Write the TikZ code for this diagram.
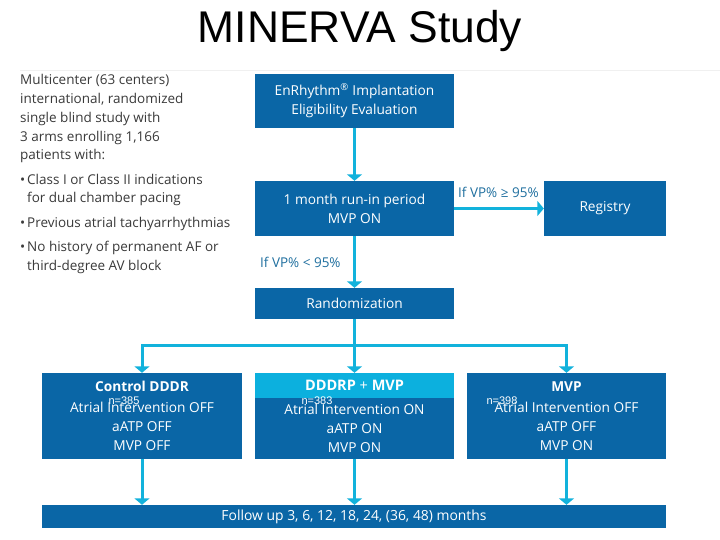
\documentclass[tikz,border=0pt]{standalone}
\usepackage{fontspec}
\setmainfont{Open Sans}
\newfontfamily\titlefont{Liberation Sans}
\usetikzlibrary{arrows.meta}
\definecolor{boxblue}{HTML}{0A66A6}
\definecolor{lineblue}{HTML}{12B2DC}
\definecolor{headblue}{HTML}{0CB0DE}
\definecolor{labelblue}{HTML}{1F6F9F}
\definecolor{bodygrey}{HTML}{3A3A3A}
\tikzset{
  flowbox/.style={fill=boxblue,text=white,inner sep=0pt,align=center,font=\fontsize{13.7}{19}\selectfont},
  flowline/.style={draw=lineblue,line width=3pt,line join=miter},
  flowarrow/.style={flowline,-{Triangle[width=15pt,length=6.5pt]}},
  cond/.style={text=labelblue,inner sep=0pt,anchor=base west,font=\fontsize{13.5}{16}\selectfont},
  bodytext/.style={text=bodygrey,inner sep=0pt,align=left,anchor=base west,font=\fontsize{13.5}{18.8}\selectfont},
  countlabel/.style={text=white,inner sep=0pt,font=\titlefont\fontsize{11}{12}\selectfont}
}
\newcommand{\bul}{\makebox[7pt][l]{\textbullet}}
\begin{document}
\begin{tikzpicture}[x=1pt,y=-1pt]
\useasboundingbox (0,0) rectangle (720,540);
\fill[white] (0,0) rectangle (720,540);
\draw[draw=black!6,line width=0.8pt] (20,70.5) -- (720,70.5);
\node[inner sep=0pt,font=\titlefont\fontsize{44.4}{50}\selectfont] (title) at (360,31) {MINERVA Study};

% left text (a multi-line node's base is its last line)
\node[bodytext] (intro) at (20,160) {Multicenter (63 centers)\\international, randomized\\single blind study with\\3 arms enrolling 1,166\\patients with:};
\node[bodytext] (bone) at (20,203) {\bul Class I or Class II indications\\\hspace*{7pt}for dual chamber pacing};
\node[bodytext] (btwo) at (20,227) {\bul Previous atrial tachyarrhythmias};
\node[bodytext] (bthree) at (20,270) {\bul No history of permanent AF or\\\hspace*{7pt}third-degree AV block};

% flow boxes
\node[flowbox,minimum width=199pt,minimum height=54pt] (elig) at (354.5,101) {EnRhythm\textsuperscript{\textregistered} Implantation\\Eligibility Evaluation};
\node[flowbox,minimum width=199pt,minimum height=55pt] (runin) at (354.5,208.5) {1 month run-in period\\MVP ON};
\node[flowbox,minimum width=122pt,minimum height=55pt] (registry) at (605,208.5) {Registry};
\node[flowbox,minimum width=199pt,minimum height=31pt] (rand) at (354.5,303.5) {Randomization};

\node[flowbox,minimum width=200pt,minimum height=86pt] (ctrl) at (142,416) {\textbf{Control DDDR}\\[1.5pt]Atrial Intervention OFF\\aATP OFF\\MVP OFF};
\node[flowbox,minimum width=199pt,minimum height=61pt] (dddrp) at (354.5,428.5) {Atrial Intervention ON\\aATP ON\\MVP ON};
\node[flowbox,fill=headblue,minimum width=199pt,minimum height=25pt,font=\fontsize{14.5}{19}\selectfont] (dddrphead) at (354.5,385.5) {\textbf{DDDRP} + \textbf{MVP}};
\node[flowbox,minimum width=199pt,minimum height=86pt] (mvp) at (566.5,416) {\textbf{MVP}\\[1.5pt]Atrial Intervention OFF\\aATP OFF\\MVP ON};
\node[flowbox,minimum width=624pt,minimum height=23pt,font=\fontsize{13.9}{19}\selectfont] (follow) at (354,516.5) {Follow up 3, 6, 12, 18, 24, (36, 48) months};

% counts
\node[countlabel] (nctrl) at (124,401) {n=385};
\node[countlabel] (ndddrp) at (317,401) {n=383};
\node[countlabel] (nmvp) at (502,401) {n=398};

% condition labels
\node[cond] (condhigh) at (458,197) {If VP\% ≥ 95\%};
\node[cond] (condlow) at (260,267) {If VP\% < 95\%};

% connectors
\coordinate (branch) at (354.5,345);
\draw[flowarrow] (elig) -- (runin);
\draw[flowarrow] (runin) -- (registry);
\draw[flowarrow] (runin) -- (rand);
\draw[flowline] (rand) -- (branch);
\draw[flowarrow] (branch) -- (dddrphead.north);
\draw[flowarrow] (branch) -| (ctrl.north);
\draw[flowarrow] (branch) -| (mvp.north);
\draw[flowarrow] (ctrl.south) -- (ctrl.south |- follow.north);
\draw[flowarrow] (dddrp.south) -- (dddrp.south |- follow.north);
\draw[flowarrow] (mvp.south) -- (mvp.south |- follow.north);
\end{tikzpicture}
\end{document}
